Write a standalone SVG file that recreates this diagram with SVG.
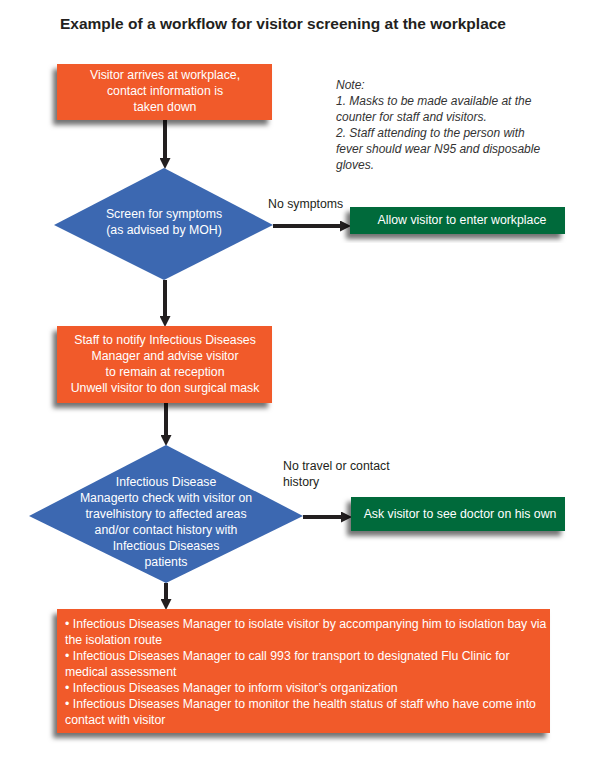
<svg xmlns="http://www.w3.org/2000/svg" width="595" height="767" viewBox="0 0 595 767">
<defs>
<filter id="sh" x="-10%" y="-20%" width="120%" height="150%">
<feDropShadow dx="-4" dy="5" stdDeviation="2.5" flood-color="#000" flood-opacity="0.55"/>
</filter>
<marker id="ah" viewBox="0 0 10 10" refX="0" refY="5" markerWidth="11" markerHeight="11" markerUnits="userSpaceOnUse" orient="auto">
<path d="M0,0 L10,5 L0,10 z" fill="#231F20"/>
</marker>
<style>
.t{font-family:"Liberation Sans",Arial,sans-serif;font-size:12.3px;fill:#fff}
.c{text-anchor:middle}
.lbl{font-family:"Liberation Sans",Arial,sans-serif;font-size:12.3px;fill:#231F20}
.note{font-family:"Liberation Sans",Arial,sans-serif;font-size:12px;font-style:italic;fill:#333}
.or{fill:#F15A2B}
.bl{fill:#3C68B1}
.gr{fill:#066B3B}
.cn{stroke:#231F20;stroke-width:4;fill:none}
</style>
</defs>
<rect width="595" height="767" fill="#fff"/>
<text x="60" y="29" font-family="'Liberation Sans',Arial,sans-serif" font-size="15" font-weight="bold" fill="#231F20" textLength="446" lengthAdjust="spacingAndGlyphs">Example of a workflow for visitor screening at the workplace</text>

<g id="connectors">
<line class="cn" x1="165" y1="120" x2="165" y2="158" marker-end="url(#ah)"/>
<line class="cn" x1="273" y1="226" x2="340" y2="226" marker-end="url(#ah)"/>
<line class="cn" x1="165" y1="280" x2="165" y2="316" marker-end="url(#ah)"/>
<line class="cn" x1="166" y1="403" x2="166" y2="435" marker-end="url(#ah)"/>
<line class="cn" x1="303" y1="517" x2="341" y2="517" marker-end="url(#ah)"/>
<line class="cn" x1="166" y1="583" x2="166" y2="599" marker-end="url(#ah)"/>
</g>

<g id="n1">
<rect class="or" x="57" y="64" width="215" height="56" filter="url(#sh)"/>
<text class="t c" x="165" y="79">Visitor arrives at workplace,</text>
<text class="t c" x="165" y="95">contact information is</text>
<text class="t c" x="165" y="111">taken down</text>
</g>

<g id="note">
<text class="note" x="336" y="89">Note:</text>
<text class="note" x="336" y="105">1. Masks to be made available at the</text>
<text class="note" x="336" y="121">counter for staff and visitors.</text>
<text class="note" x="336" y="137">2. Staff attending to the person with</text>
<text class="note" x="336" y="153">fever should wear N95 and disposable</text>
<text class="note" x="336" y="169">gloves.</text>
</g>

<g id="d1">
<polygon class="bl" points="164,168 273,225 164,280 54,225"/>
<text class="t c" x="164" y="218">Screen for symptoms</text>
<text class="t c" x="164" y="234">(as advised by MOH)</text>
</g>

<g id="l1"><text class="lbl" x="268" y="208">No symptoms</text></g>

<g id="g1">
<rect class="gr" x="350" y="207" width="215" height="27" filter="url(#sh)"/>
<text class="t c" x="462" y="224">Allow visitor to enter workplace</text>
</g>

<g id="n2">
<rect class="or" x="57" y="326" width="215" height="77" filter="url(#sh)"/>
<text class="t c" x="165" y="344">Staff to notify Infectious Diseases</text>
<text class="t c" x="165" y="360">Manager and advise visitor</text>
<text class="t c" x="165" y="376">to remain at reception</text>
<text class="t c" x="165" y="392">Unwell visitor to don surgical mask</text>
</g>

<g id="d2">
<polygon class="bl" points="166,445 303,516 166,583 29,516"/>
<text class="t c" x="166" y="486">Infectious Disease</text>
<text class="t c" x="166" y="502">Managerto check with visitor on</text>
<text class="t c" x="166" y="518">travelhistory to affected areas</text>
<text class="t c" x="166" y="534">and/or contact history with</text>
<text class="t c" x="166" y="550">Infectious Diseases</text>
<text class="t c" x="166" y="566">patients</text>
</g>

<g id="l2">
<text class="lbl" x="283" y="470">No travel or contact</text>
<text class="lbl" x="283" y="486">history</text>
</g>

<g id="g2">
<rect class="gr" x="351" y="497" width="214" height="34" filter="url(#sh)"/>
<text class="t c" x="460" y="518">Ask visitor to see doctor on his own</text>
</g>

<g id="n3">
<rect class="or" x="57" y="609" width="493" height="124" filter="url(#sh)"/>
<text class="t" x="65" y="628">• Infectious Diseases Manager to isolate visitor by accompanying him to isolation bay via</text>
<text class="t" x="65" y="644">the isolation route</text>
<text class="t" x="65" y="660">• Infectious Diseases Manager to call 993 for transport to designated Flu Clinic for</text>
<text class="t" x="65" y="676">medical assessment</text>
<text class="t" x="65" y="692">• Infectious Diseases Manager to inform visitor’s organization</text>
<text class="t" x="65" y="708">• Infectious Diseases Manager to monitor the health status of staff who have come into</text>
<text class="t" x="65" y="724">contact with visitor</text>
</g>
</svg>
